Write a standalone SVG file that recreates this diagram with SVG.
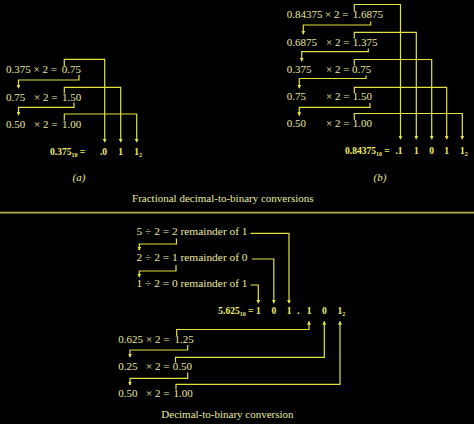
<svg xmlns="http://www.w3.org/2000/svg" width="474" height="424" viewBox="0 0 474 424">
<style>
.t{font-family:"Liberation Serif","Times New Roman",serif;font-size:11px;fill:#e9e9a0}
.d{font-size:11.4px}
.b{font-family:"Liberation Serif","Times New Roman",serif;font-size:9.5px;font-weight:bold;fill:#f0f070}
.s{font-size:6px}
.c{text-anchor:middle}
.i{font-style:italic}
.ln{fill:none;stroke:#e2e23c;stroke-width:1.2}
.ar{marker-end:url(#ah)}
</style>
<defs>
<marker id="ah" viewBox="0 0 6 6" refX="5" refY="3" markerWidth="4" markerHeight="4" markerUnits="userSpaceOnUse" orient="auto">
<path d="M0,0 L6,3 L0,6 z" fill="#e2e23c"/>
</marker>
</defs>
<rect width="474" height="424" fill="#000"/>

<g id="part-a">
<text class="t" x="6" y="73.3">0.375</text><text class="t" x="33.5" y="73.3">× 2 =</text><text class="t" x="61.7" y="73.3">0.75</text>
<text class="t" x="6" y="100.7">0.75</text><text class="t" x="34" y="100.7">× 2 =</text><text class="t" x="62" y="100.7">1.50</text>
<text class="t" x="6" y="127.7">0.50</text><text class="t" x="34" y="127.7">× 2 =</text><text class="t" x="62" y="127.7">1.00</text>
<text class="b" x="50" y="155">0.375<tspan class="s" dy="2">10</tspan><tspan dy="-2"> =</tspan></text>
<text class="b" x="107" y="155" text-anchor="end">.0</text>
<text class="b c" x="120.7" y="155">1</text>
<text class="b" x="134.3" y="155">1<tspan class="s" dy="2">2</tspan></text>
<text class="t i c" x="79" y="180.7">(a)</text>
</g>

<g id="part-b">
<text class="t" x="286.7" y="18.3">0.84375</text><text class="t" x="325" y="18.3">× 2 =</text><text class="t" x="352.7" y="18.3">1.6875</text>
<text class="t" x="286.7" y="45.7">0.6875</text><text class="t" x="326" y="45.7">× 2 =</text><text class="t" x="352.7" y="45.7">1.375</text>
<text class="t" x="286.7" y="72.7">0.375</text><text class="t" x="326" y="72.7">× 2 =</text><text class="t" x="352" y="72.7">0.75</text>
<text class="t" x="286.7" y="100">0.75</text><text class="t" x="326" y="100">× 2 =</text><text class="t" x="352.7" y="100">1.50</text>
<text class="t" x="286.7" y="127.3">0.50</text><text class="t" x="326" y="127.3">× 2 =</text><text class="t" x="352.7" y="127.3">1.00</text>
<text class="b" x="345" y="153.5">0.84375<tspan class="s" dy="2">10</tspan><tspan dy="-2"> =</tspan></text>
<text class="b" x="402.5" y="153.5" text-anchor="end">.1</text>
<text class="b c" x="416.3" y="153.5">1</text>
<text class="b c" x="431.7" y="153.5">0</text>
<text class="b c" x="446.7" y="153.5">1</text>
<text class="b" x="460" y="153.5">1<tspan class="s" dy="2">2</tspan></text>
<text class="t i c" x="380" y="180.7">(b)</text>
</g>

<g id="caption-top">
<text class="t c" x="222.8" y="201.7">Fractional decimal-to-binary conversions</text>
</g>
<line x1="0" y1="212.7" x2="474" y2="212.7" stroke="#b5ae55" stroke-width="1.8"/>

<g id="part-c">
<text class="t d" x="136.5" y="235">5 ÷ 2 = 2 remainder of 1</text>
<text class="t d" x="136.5" y="260.7">2 ÷ 2 = 1 remainder of 0</text>
<text class="t d" x="136.5" y="286.7">1 ÷ 2 = 0 remainder of 1</text>
<text class="b" x="218.3" y="314">5.625<tspan class="s" dy="2">10</tspan><tspan dy="-2"> =</tspan></text>
<text class="b c" x="258.3" y="314">1</text>
<text class="b c" x="273.8" y="314">0</text>
<text class="b c" x="289" y="314">1</text>
<text class="b c" x="298.5" y="314">.</text>
<text class="b c" x="309" y="314">1</text>
<text class="b c" x="324.3" y="314">0</text>
<text class="b" x="337.6" y="314">1<tspan class="s" dy="2">2</tspan></text>
<text class="t" x="118.3" y="343.3">0.625</text><text class="t" x="146" y="343.3">× 2 =</text><text class="t" x="174.5" y="343.3">1.25</text>
<text class="t" x="118.3" y="370">0.25</text><text class="t" x="146" y="370">× 2 =</text><text class="t" x="172.7" y="370">0.50</text>
<text class="t" x="118.3" y="396.7">0.50</text><text class="t" x="146" y="396.7">× 2 =</text><text class="t" x="173.5" y="396.7">1.00</text>
<text class="t c" x="227.5" y="418.3">Decimal-to-binary conversion</text>
</g>

<g id="connectors">
<path class="ln ar" d="M64.3,66.5 V59.3 H104.7 V142"/>
<path class="ln ar" d="M79,75 V80 H18.5 V88"/>
<path class="ln ar" d="M64.3,93.5 V87.3 H120.7 V142"/>
<path class="ln ar" d="M74,102.5 V107.3 H18.5 V115"/>
<path class="ln ar" d="M64.3,120.5 V114 H136.7 V142"/>

<path class="ln ar" d="M354.3,11.5 V4.5 H400.5 V139"/>
<path class="ln ar" d="M370.7,21.5 V25 H303.3 V34"/>
<path class="ln ar" d="M354.3,38.5 V32.3 H416.3 V139"/>
<path class="ln ar" d="M368.3,48.5 V51.7 H301.7 V61"/>
<path class="ln ar" d="M354.3,65.5 V59.5 H431.7 V139"/>
<path class="ln ar" d="M366,75.5 V78.5 H299.3 V88"/>
<path class="ln ar" d="M354.3,93 V87.3 H446.7 V139"/>
<path class="ln ar" d="M370,103 V107.3 H299.3 V115.5"/>
<path class="ln ar" d="M354.3,120 V113.5 H462.3 V139"/>

<path class="ln ar" d="M250.5,233.3 H289 V303"/>
<path class="ln ar" d="M176.5,238.5 V244 H139.3 V250"/>
<path class="ln ar" d="M252,259 H273.8 V303"/>
<path class="ln ar" d="M250.5,285 H258.3 V303"/>
<path class="ln ar" d="M176,265 V271 H139.3 V277"/>

<path class="ln ar" d="M176.7,336 V329.5 H309 V321.5"/>
<path class="ln ar" d="M187.7,345 V350 H130 V357"/>
<path class="ln ar" d="M175.5,362.5 V357.3 H324.3 V321.5"/>
<path class="ln ar" d="M187.7,372.5 V378.3 H130 V385"/>
<path class="ln ar" d="M176,389.5 V384.3 H340 V321.5"/>
</g>
</svg>
